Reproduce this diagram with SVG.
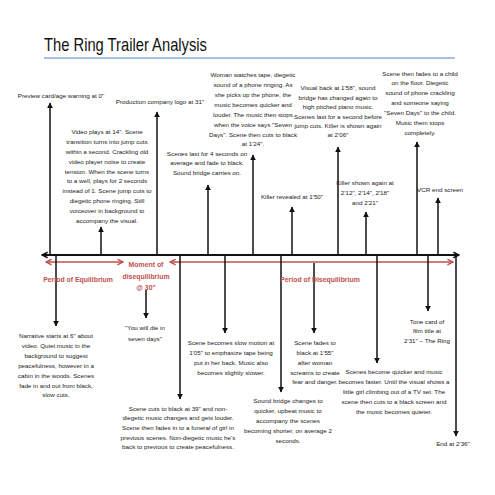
<svg xmlns="http://www.w3.org/2000/svg" width="495" height="495" viewBox="0 0 495 495">
<defs>
<style>
.t{font-family:"Liberation Sans",Arial,sans-serif;font-size:6.25px;fill:#222;text-anchor:middle}
.r{font-family:"Liberation Sans",Arial,sans-serif;font-size:6.9px;font-weight:bold;fill:#C0504D;text-anchor:middle}
.a{stroke:#111;stroke-width:1.5;fill:none;marker-end:url(#ah)}
.ra{stroke:#C0504D;stroke-width:1.5;fill:none;marker-start:url(#rh);marker-end:url(#rh)}
</style>
<marker id="ah" viewBox="0 0 10 10" refX="9" refY="5" markerWidth="6" markerHeight="7" markerUnits="userSpaceOnUse" orient="auto-start-reverse"><path d="M0,0 L10,5 L0,10 z" fill="#111"/></marker>
<marker id="rh" viewBox="0 0 10 10" refX="9" refY="5" markerWidth="7" markerHeight="7" markerUnits="userSpaceOnUse" orient="auto-start-reverse"><path d="M1,1 L9,5 L1,9" fill="none" stroke="#C0504D" stroke-width="2"/></marker>
<marker id="th" viewBox="0 0 10 10" refX="9" refY="5" markerWidth="7" markerHeight="8" markerUnits="userSpaceOnUse" orient="auto-start-reverse"><path d="M1,1 L9,5 L1,9" fill="none" stroke="#111" stroke-width="2.2"/></marker>
</defs>
<rect width="495" height="495" fill="#fff"/>
<g id="title">
<text x="44" y="51" font-family="Liberation Sans,Arial,sans-serif" font-size="19" fill="#111" textLength="163" lengthAdjust="spacingAndGlyphs">The Ring Trailer Analysis</text>
<line x1="44" y1="58" x2="455" y2="58" stroke="#4F81BD" stroke-width="1"/>
</g>
<g id="connectors">
<line x1="42" y1="255" x2="459" y2="255" stroke="#111" stroke-width="1.8" marker-start="url(#th)" marker-end="url(#th)"/>
<line class="ra" x1="46" y1="262" x2="123" y2="262"/>
<line class="ra" x1="170" y1="262" x2="453" y2="262"/>
<line class="a" x1="50" y1="255" x2="50" y2="103"/>
<line class="a" x1="101" y1="255" x2="101" y2="227"/>
<line class="a" x1="157" y1="255" x2="157" y2="112"/>
<line class="a" x1="208" y1="255" x2="208" y2="185"/>
<line class="a" x1="253" y1="255" x2="253" y2="155"/>
<line class="a" x1="292" y1="255" x2="292" y2="207"/>
<line class="a" x1="338" y1="255" x2="338" y2="147"/>
<line class="a" x1="366" y1="255" x2="366" y2="212"/>
<line class="a" x1="417" y1="255" x2="417" y2="142"/>
<line class="a" x1="438" y1="255" x2="438" y2="198"/>
<line class="a" x1="56" y1="255" x2="56" y2="326"/>
<line class="a" x1="146" y1="290" x2="146" y2="318"/>
<line class="a" x1="180" y1="255" x2="180" y2="399"/>
<line class="a" x1="225" y1="255" x2="225" y2="333"/>
<line class="a" x1="281" y1="255" x2="281" y2="392"/>
<line class="a" x1="314" y1="263" x2="314" y2="333"/>
<line class="a" x1="377" y1="255" x2="377" y2="363"/>
<line class="a" x1="428" y1="255" x2="428" y2="311"/>
<line class="a" x1="456" y1="255" x2="456" y2="436"/>
</g>
<g id="period-equilibrium"><text class="r" x="78" y="282">Period of Equilibrium</text></g>
<g id="moment"><text class="r" x="146" y="267">Moment of</text><text class="r" x="146" y="279">disequilibrium</text><text class="r" x="146" y="290">@ 30"</text></g>
<g id="period-disequilibrium"><text class="r" x="320" y="282">Period of Disequilibrium</text></g>
<g id="n-preview"><text class="t" x="61" y="98">Preview card/age warning at 0"</text></g>
<g id="n-production"><text class="t" x="160" y="104">Production company logo at 31"</text></g>
<g id="n-video"><text class="t" x="107"><tspan x="107" y="134">Video plays at 14". Scene</tspan><tspan x="107" y="144">transition turns into jump cuts</tspan><tspan x="107" y="154">within a second. Crackling old</tspan><tspan x="107" y="164">video player noise to create</tspan><tspan x="107" y="174">tension. When the scene turns</tspan><tspan x="107" y="183">to a well, plays for 2 seconds</tspan><tspan x="107" y="193">instead of 1. Scene jump cuts to</tspan><tspan x="107" y="203">diegetic phone ringing. Still</tspan><tspan x="107" y="213">voiceover in background to</tspan><tspan x="107" y="223">accompany the visual.</tspan></text></g>
<g id="n-scenes4"><text class="t"><tspan x="207" y="156">Scenes last for 4 seconds on</tspan><tspan x="207" y="165">average and fade to black.</tspan><tspan x="207" y="175">Sound bridge carries on.</tspan></text></g>
<g id="n-woman"><text class="t"><tspan x="253" y="77">Woman watches tape, diegetic</tspan><tspan x="253" y="87">sound of a phone ringing. As</tspan><tspan x="253" y="97">she picks up the phone, the</tspan><tspan x="253" y="107">music becomes quicker and</tspan><tspan x="253" y="117">louder. The music then stops</tspan><tspan x="253" y="127">when the voice says "Seven</tspan><tspan x="253" y="137">Days". Scene then cuts to black</tspan><tspan x="253" y="146">at 1'24".</tspan></text></g>
<g id="n-killer150"><text class="t" x="292" y="199">Killer revealed at 1'50"</text></g>
<g id="n-visual"><text class="t"><tspan x="338" y="90">Visual back at 1'58", sound</tspan><tspan x="338" y="100">bridge has changed again to</tspan><tspan x="338" y="109">high pitched piano music.</tspan><tspan x="338" y="119">Scenes last for a second before</tspan><tspan x="338" y="128">jump cuts. Killer is shown again</tspan><tspan x="338" y="137">at 2'06"</tspan></text></g>
<g id="n-killeragain"><text class="t"><tspan x="365" y="185">Killer shown again at</tspan><tspan x="365" y="195">2'12", 2'14", 2'18"</tspan><tspan x="365" y="205">and 2'21"</tspan></text></g>
<g id="n-child"><text class="t"><tspan x="420" y="76">Scene then fades to a child</tspan><tspan x="420" y="85">on the floor. Diegetic</tspan><tspan x="420" y="95">sound of phone crackling</tspan><tspan x="420" y="105">and someone saying</tspan><tspan x="420" y="115">"Seven Days" to the child.</tspan><tspan x="420" y="125">Music them stops</tspan><tspan x="420" y="135">completely.</tspan></text></g>
<g id="n-vcr"><text class="t" x="440" y="192">VCR end screen</text></g>
<g id="n-narrative"><text class="t"><tspan x="56" y="338">Narrative starts at 6" about</tspan><tspan x="56" y="348">video. Quiet music in the</tspan><tspan x="56" y="358">background to suggest</tspan><tspan x="56" y="368">peacefulness, however in a</tspan><tspan x="56" y="378">cabin in the woods. Scenes</tspan><tspan x="56" y="388">fade in and out from black,</tspan><tspan x="56" y="397">slow cuts.</tspan></text></g>
<g id="n-die"><text class="t"><tspan x="145" y="330">"You will die in</tspan><tspan x="145" y="341">seven days"</tspan></text></g>
<g id="n-black39"><text class="t"><tspan x="178" y="411">Scene cuts to black at 39" and non-</tspan><tspan x="178" y="420">diegetic music changes and gets louder.</tspan><tspan x="178" y="430">Scene then fades in to a funeral of girl in</tspan><tspan x="178" y="440">previous scenes. Non-diegetic music he's</tspan><tspan x="178" y="449">back to previous to create peacefulness.</tspan></text></g>
<g id="n-slowmo"><text class="t"><tspan x="231" y="345">Scene becomes slow motion at</tspan><tspan x="231" y="355">1'05" to emphasize tape being</tspan><tspan x="231" y="365">put in her back. Music also</tspan><tspan x="231" y="375">becomes slightly slower.</tspan></text></g>
<g id="n-fades155"><text class="t"><tspan x="315" y="345">Scene fades to</tspan><tspan x="315" y="355">black at 1'55"</tspan><tspan x="315" y="365">after woman</tspan><tspan x="315" y="375">screams to create</tspan><tspan x="315" y="384">fear and danger.</tspan></text></g>
<g id="n-soundbridge"><text class="t"><tspan x="288" y="403">Sound bridge changes to</tspan><tspan x="288" y="413">quicker, upbeat music to</tspan><tspan x="288" y="423">accompany the scenes</tspan><tspan x="288" y="433">becoming shorter, on average 2</tspan><tspan x="288" y="443">seconds.</tspan></text></g>
<g id="n-quicker"><text class="t"><tspan x="394" y="374">Scenes become quicker and music</tspan><tspan x="394" y="384">becomes faster. Until the visual shows a</tspan><tspan x="394" y="394">little girl climbing out of a TV set. The</tspan><tspan x="394" y="404">scene then cuts to a black screen and</tspan><tspan x="394" y="414">the music becomes quieter.</tspan></text></g>
<g id="n-tone"><text class="t"><tspan x="427" y="324">Tone card of</tspan><tspan x="427" y="333">film title at</tspan><tspan x="427" y="343">2'31" – The Ring</tspan></text></g>
<g id="n-end"><text class="t" x="453" y="446">End at 2'36"</text></g>
</svg>
